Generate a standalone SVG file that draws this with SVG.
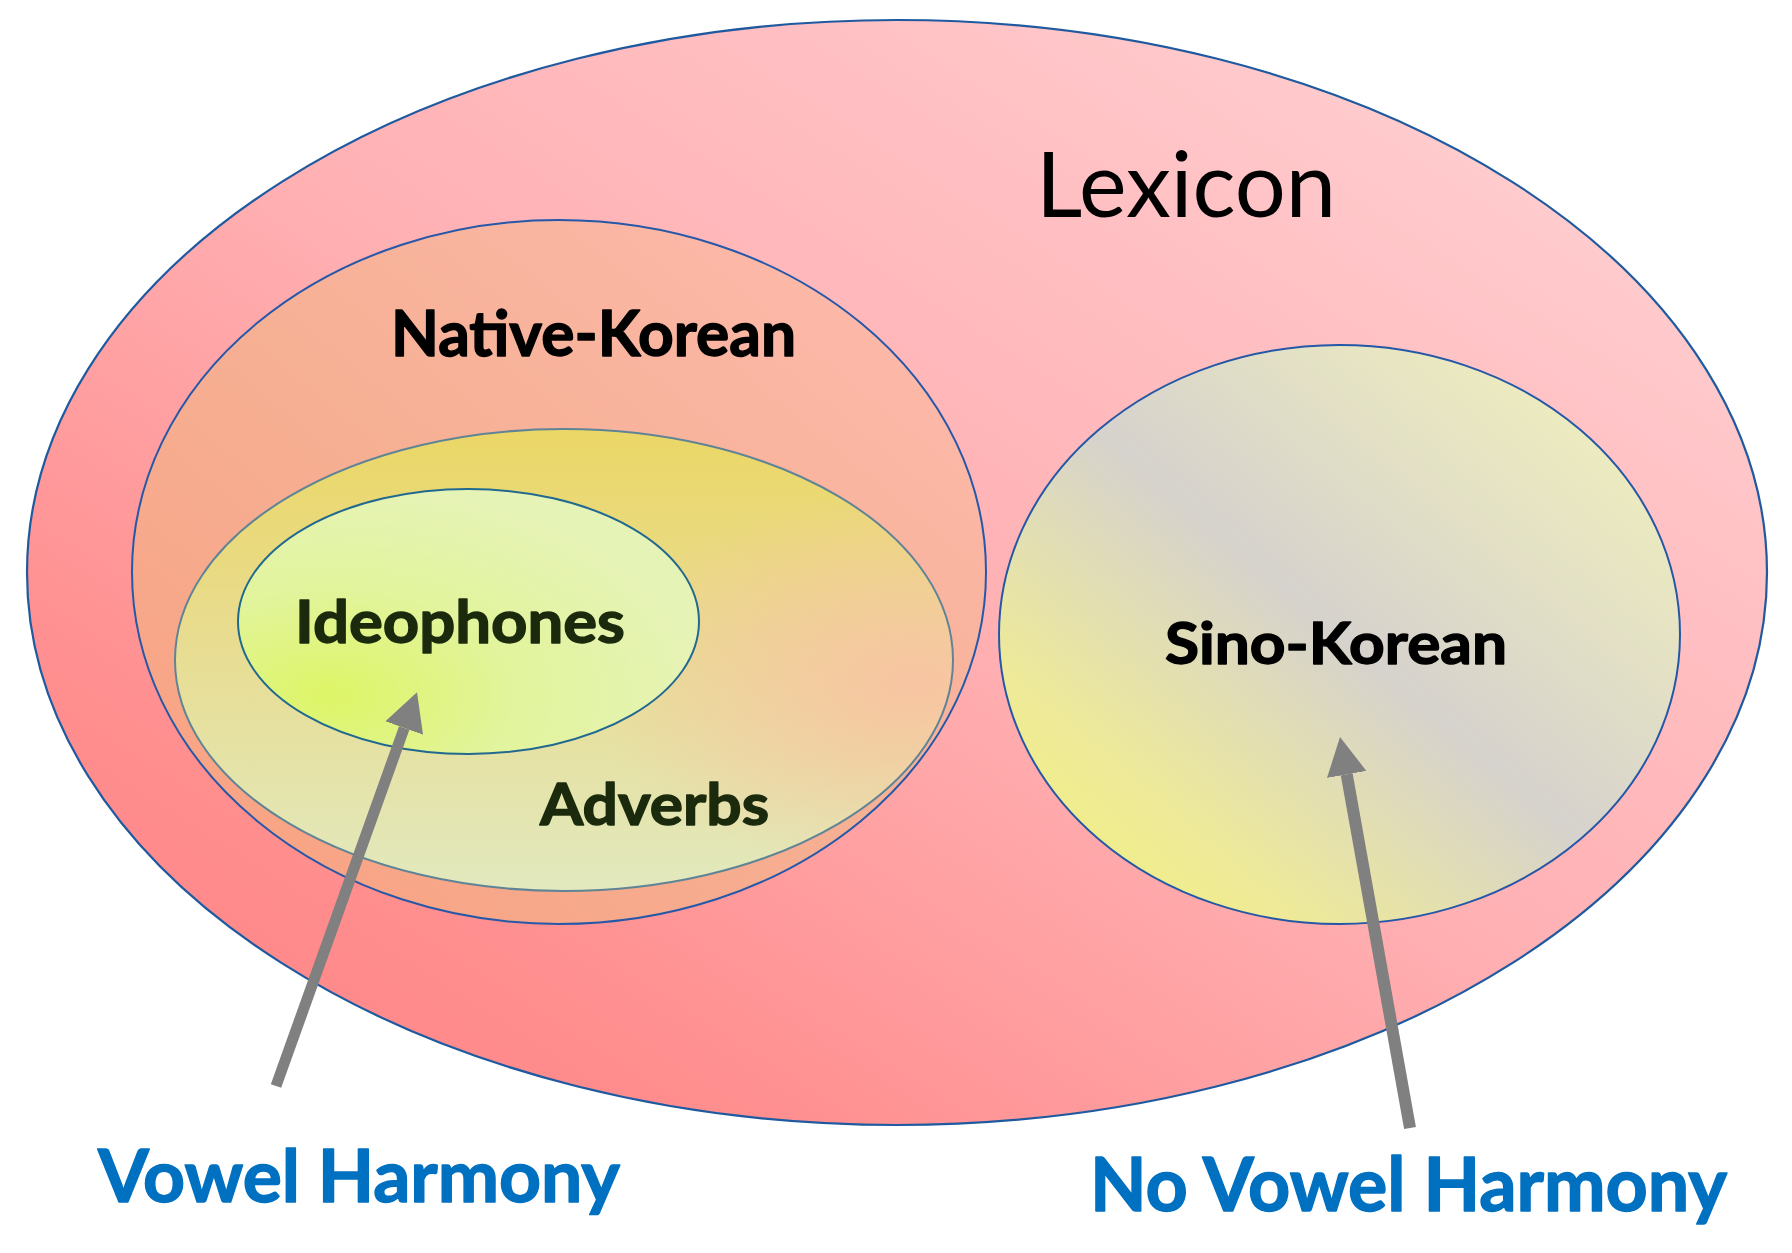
<svg xmlns="http://www.w3.org/2000/svg" width="1792" height="1253" viewBox="0 0 1792 1253">
  <defs>
    <style>
      .lbl { font-family: Lato, "Open Sans", "Liberation Sans", sans-serif; }
      .bold { font-weight: 700; stroke-width: 1.4; stroke-linejoin: round; }
      .dark { fill: #000000; }
      .bold.dark { stroke: #000000; }
      .green { fill: #1B2A0C; stroke: #1B2A0C; }
      .blue { fill: #0070C0; stroke: #0070C0; }
      .arrow { stroke: #808080; fill: none; stroke-linecap: butt; }
    </style>
    <linearGradient id="gOuter" x1="0" y1="1" x2="1" y2="0">
      <stop offset="0" stop-color="#FF8080"/>
      <stop offset="0.22" stop-color="#FF8F90"/>
      <stop offset="0.5" stop-color="#FFB0B3"/>
      <stop offset="0.75" stop-color="#FFC2C5"/>
      <stop offset="1" stop-color="#FFD8D8"/>
    </linearGradient>
    <linearGradient id="gNative" x1="0" y1="1" x2="1" y2="0">
      <stop offset="0" stop-color="#F9A080"/>
      <stop offset="0.5" stop-color="#F6B094"/>
      <stop offset="1" stop-color="#FFBBB0"/>
    </linearGradient>
    <linearGradient id="gAdverbs" x1="0" y1="0" x2="0" y2="1">
      <stop offset="0" stop-color="#EBD766"/>
      <stop offset="0.45" stop-color="#E8DC90"/>
      <stop offset="1" stop-color="#E2E9BE"/>
    </linearGradient>
    <radialGradient id="gAdverbsGlow" cx="0.95" cy="0.55" r="0.42">
      <stop offset="0" stop-color="#F8C4A2" stop-opacity="1"/>
      <stop offset="1" stop-color="#F8C4A2" stop-opacity="0"/>
    </radialGradient>
    <radialGradient id="gIdeo" cx="0.2" cy="0.78" r="0.8">
      <stop offset="0" stop-color="#DDF566"/>
      <stop offset="0.5" stop-color="#E2F49C"/>
      <stop offset="1" stop-color="#E6F3B6"/>
    </radialGradient>
    <linearGradient id="gSino" x1="0" y1="1" x2="1" y2="0">
      <stop offset="0" stop-color="#F4F27A"/>
      <stop offset="0.22" stop-color="#EEEA98"/>
      <stop offset="0.5" stop-color="#D6D2CD"/>
      <stop offset="0.78" stop-color="#E8E6C2"/>
      <stop offset="1" stop-color="#F5F3B8"/>
    </linearGradient>
    <marker id="head" markerUnits="userSpaceOnUse" markerWidth="38" markerHeight="40" viewBox="0 0 38 40" refX="0" refY="20" orient="auto">
      <path d="M0,0 L38,20 L0,40 z" fill="#808080"/>
    </marker>
  </defs>

  <rect x="0" y="0" width="1792" height="1253" fill="#FFFFFF"/>

  <g id="lexicon">
    <ellipse cx="897" cy="572.5" rx="870" ry="552.5" fill="url(#gOuter)" stroke="#1F5AA0" stroke-width="2.2"/>
    <text class="lbl dark" x="1036" y="217" font-size="92" textLength="300" lengthAdjust="spacingAndGlyphs">Lexicon</text>
  </g>

  <g id="native-korean">
    <ellipse cx="559" cy="572" rx="427" ry="352" fill="url(#gNative)" stroke="#2558A8" stroke-width="2"/>
    <text class="lbl bold dark" x="391" y="356" font-size="63" textLength="405" lengthAdjust="spacingAndGlyphs">Native-Korean</text>
  </g>

  <g id="adverbs">
    <ellipse cx="564" cy="660" rx="389" ry="231" fill="url(#gAdverbs)"/>
    <ellipse cx="564" cy="660" rx="389" ry="231" fill="url(#gAdverbsGlow)" stroke="#5F8496" stroke-width="2"/>
    <text class="lbl bold green" x="540" y="825" font-size="57" textLength="229" lengthAdjust="spacingAndGlyphs">Adverbs</text>
  </g>

  <g id="ideophones">
    <ellipse cx="468.5" cy="621.5" rx="230.5" ry="132.5" fill="url(#gIdeo)" stroke="#22698F" stroke-width="2"/>
    <text class="lbl bold green" x="295" y="643" font-size="60" textLength="330" lengthAdjust="spacingAndGlyphs">Ideophones</text>
  </g>

  <g id="sino-korean">
    <ellipse cx="1339.5" cy="634.5" rx="340.5" ry="289.5" fill="url(#gSino)" stroke="#2458A6" stroke-width="2"/>
    <text class="lbl bold dark" x="1165" y="664" font-size="57" textLength="342" lengthAdjust="spacingAndGlyphs">Sino-Korean</text>
  </g>

  <g id="connectors">
    <line class="arrow" x1="276" y1="1086" x2="404.2" y2="728" stroke-width="11" marker-end="url(#head)"/>
    <line class="arrow" x1="1410" y1="1128" x2="1346.7" y2="774.4" stroke-width="12" marker-end="url(#head)"/>
  </g>

  <g id="vowel-harmony">
    <text class="lbl bold blue" x="98" y="1202" font-size="72" textLength="522" lengthAdjust="spacingAndGlyphs">Vowel Harmony</text>
  </g>

  <g id="no-vowel-harmony">
    <text class="lbl bold blue" x="1090" y="1211" font-size="74" textLength="637" lengthAdjust="spacingAndGlyphs">No Vowel Harmony</text>
  </g>
</svg>
